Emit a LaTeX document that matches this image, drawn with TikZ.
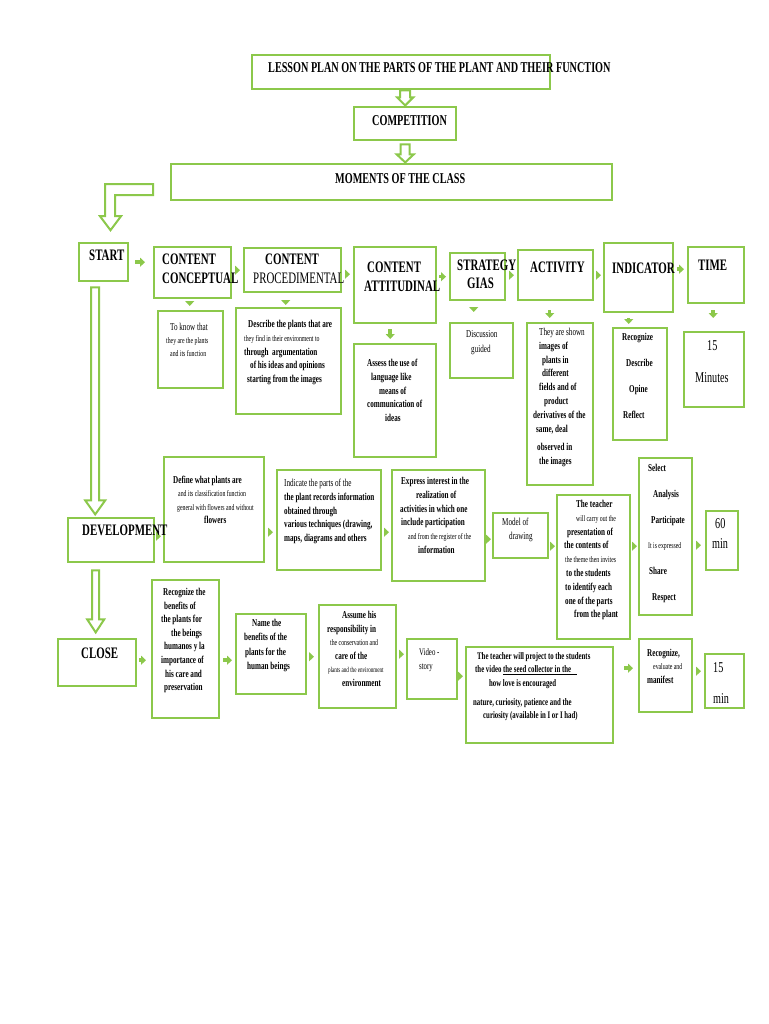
\documentclass[tikz,border=0pt]{standalone}
\usepackage{fontspec}
\setmainfont{Liberation Serif}[FakeStretch=0.68]
\usetikzlibrary{arrows.meta}
\definecolor{leaf}{RGB}{140,200,75}
\newcommand\bodyb{\fontsize{10.5}{\baselineskip}\selectfont\bfseries}
\newcommand\bodyr{\fontsize{10.5}{\baselineskip}\selectfont\mdseries}
\newcommand\bodys{\fontsize{8.5}{\baselineskip}\selectfont\mdseries}
\newcommand\headf{\fontsize{16}{19}\selectfont\bfseries}
\begin{document}
\begin{tikzpicture}[x=1pt, y=-1pt,
    box/.style={draw=leaf, line width=2.4pt, inner sep=0pt, anchor=north west},
    lbl/.style={inner sep=0pt, anchor=north west, align=left,
      font=\fontsize{10.5}{13.8}\selectfont},
    head/.style={lbl, font=\headf},
    nums/.style={lbl, font=\fontsize{15}{32}\selectfont},
    sarrow/.style={draw=leaf, line width=3.5pt, shorten <=3pt, shorten >=3pt,
      -{Triangle[length=5pt,width=9pt]}},
    harrow/.style={draw=leaf, line width=2pt, fill=white, line join=miter}
  ]
  \useasboundingbox (0,0) rectangle (768,1024);
  \fill[white] (0,0) rectangle (768,1024);
  % heading chain
  \node[box, minimum width=298, minimum height=34] (title) at (251,54) {};
  \node[head, font=\fontsize{15}{18}\selectfont\bfseries] (title-t) at (268,62)
  {LESSON PLAN ON THE PARTS OF THE PLANT AND THEIR FUNCTION};
  \node[box, minimum width=102, minimum height=33] (comp) at (353,106) {};
  \node[head, font=\fontsize{15}{18}\selectfont\bfseries] (comp-t) at (372,115)
  {COMPETITION};
  \node[box, minimum width=441, minimum height=36] (moments) at (170,163) {};
  \node[head, font=\fontsize{15}{18}\selectfont\bfseries] (moments-t) at (335,173)
  {MOMENTS OF THE CLASS};
  \draw[harrow] ([xshift=-5pt]comp.north |- title.south) -- ++(0,7) -- ++(-3,0)
  -- ++(8,8) -- ++(8,-8) -- ++(-3,0) -- ++(0,-7) -- cycle;
  \draw[harrow] ([shift={(-4.5pt,-3pt)}]comp.south) -- ++(0,10) -- ++(-4,0)
  -- ++(8.5,8) -- ++(8.5,-8) -- ++(-4,0) -- ++(0,-10) -- cycle;

  % first moment: start
  \node[box, minimum width=49, minimum height=38] (start) at (78,242) {};
  \node[head] (start-t) at (89,250) {START};
  \node[box, minimum width=77, minimum height=51] (cc) at (153,246) {};
  \node[head] (cc-t) at (162,254) {CONTENT\\CONCEPTUAL};
  \node[box, minimum width=97, minimum height=44] (cp) at (243,247) {};
  \node[head] (cp-t) at (253,254)
  {\hspace*{12pt}CONTENT\\{\mdseries PROCEDIMENTAL}};
  \node[box, minimum width=82, minimum height=76] (ca) at (353,246) {};
  \node[head] (ca-t) at (364,262) {\hspace*{3pt}CONTENT\\ATTITUDINAL};
  \node[box, minimum width=55, minimum height=47] (strat) at (449,252) {};
  \node[head, font=\fontsize{16}{18}\selectfont\bfseries] (strat-t) at (457,260)
  {STRATEGY\\\hspace*{10pt}GIAS};
  \node[box, minimum width=75, minimum height=50] (act) at (517,249) {};
  \node[head] (act-t) at (530,262) {ACTIVITY};
  \node[box, minimum width=69, minimum height=69] (ind) at (603,242) {};
  \node[head] (ind-t) at (612,263) {INDICATOR};
  \node[box, minimum width=56, minimum height=56] (time) at (687,246) {};
  \node[head] (time-t) at (698,260) {TIME};

  \node[box, minimum width=65, minimum height=77] (know) at (157,310) {};
  \node[lbl, font=\fontsize{10.5}{13}\selectfont] (know-t) at (166,323)
  {\hspace*{4pt}{\bodyr To know that}\\
   {\bodys they are the plants}\\
   \hspace*{4pt}{\bodys and its function}};
  \node[box, minimum width=105, minimum height=106] (desc) at (235,307) {};
  \node[lbl] (desc-t) at (244,320)
  {\hspace*{4pt}{\bodyb Describe the plants that are}\\
   {\bodys they find in their environment to}\\
   {\bodyb through\ \ argumentation}\\
   \hspace*{6pt}{\bodyb of his ideas and opinions}\\
   \hspace*{3pt}{\bodyb starting from the images}};
  \node[box, minimum width=82, minimum height=113] (assess) at (353,343) {};
  \node[lbl] (assess-t) at (367,359)
  {{\bodyb Assess the use of}\\
   \hspace*{4pt}{\bodyb language like}\\
   \hspace*{12pt}{\bodyb means of}\\
   {\bodyb communication of}\\
   \hspace*{18pt}{\bodyb ideas}};
  \node[box, minimum width=63, minimum height=55] (disc) at (449,322) {};
  \node[lbl, font=\fontsize{10.5}{15}\selectfont] (disc-t) at (466,330)
  {{\bodyr Discussion}\\\hspace*{5pt}{\bodyr guided}};
  \node[box, minimum width=66, minimum height=162] (shown) at (526,322) {};
  \node[lbl] (shown-t) at (533,328)
  {\hspace*{6pt}{\bodyr They are shown}\\
   \hspace*{6pt}{\bodyb images of}\\
   \hspace*{9pt}{\bodyb plants in}\\
   \hspace*{9pt}{\bodyb different}\\
   \hspace*{6pt}{\bodyb fields and of}\\
   \hspace*{11pt}{\bodyb product}\\
   {\bodyb derivatives of the}\\
   \hspace*{3pt}{\bodyb same, deal}\\[5pt]
   \hspace*{4pt}{\bodyb observed in}\\
   \hspace*{6pt}{\bodyb the images}};
  \node[box, minimum width=54, minimum height=112] (recog) at (612,327) {};
  \node[lbl, font=\fontsize{10.5}{26}\selectfont] (recog-t) at (622,333)
  {{\bodyb Recognize}\\
   \hspace*{4pt}{\bodyb Describe}\\
   \hspace*{7pt}{\bodyb Opine}\\
   \hspace*{1pt}{\bodyb Reflect}};
  \node[box, minimum width=60, minimum height=75] (mins) at (683,331) {};
  \node[nums] (mins-t) at (695,340) {\hspace*{12pt}15\\Minutes};

  % second moment: development
  \node[box, minimum width=86, minimum height=44] (dev) at (67,517) {};
  \node[box, minimum width=100, minimum height=105] (define) at (163,456) {};
  \node[lbl, font=\fontsize{10.5}{13.3}\selectfont] (define-t) at (173,476)
  {{\bodyb Define what plants are}\\
   \hspace*{5pt}{\bodys and its classification function}\\
   \hspace*{4pt}{\bodys general with flowers and without}\\
   \hspace*{31pt}{\bodyb flowers}};
  \node[box, minimum width=104, minimum height=100] (indic) at (276,469) {};
  \node[lbl] (indic-t) at (284,479)
  {{\bodyr Indicate the parts of the}\\
   {\bodyb the plant records information}\\
   {\bodyb obtained through}\\
   {\bodyb various techniques (drawing,}\\
   {\bodyb maps, diagrams and others}};
  \node[box, minimum width=93, minimum height=111] (express) at (391,469) {};
  \node[lbl] (express-t) at (400,477)
  {\hspace*{1pt}{\bodyb Express interest in the}\\
   \hspace*{16pt}{\bodyb realization of}\\
   {\bodyb activities in which one}\\
   \hspace*{1pt}{\bodyb include participation}\\
   \hspace*{8pt}{\bodys and from the register of the}\\
   \hspace*{18pt}{\bodyb information}};
  \node[box, minimum width=55, minimum height=45] (model) at (492,512) {};
  \node[lbl, font=\fontsize{10.5}{13.5}\selectfont] (model-t) at (502,518)
  {{\bodyr Model of}\\\hspace*{7pt}{\bodyr drawing}};
  \node[box, minimum width=73, minimum height=144] (teacher) at (556,494) {};
  \node[lbl] (teacher-t) at (564,500)
  {\hspace*{12pt}{\bodyb The teacher}\\
   \hspace*{12pt}{\bodys will carry out the}\\
   \hspace*{3pt}{\bodyb presentation of}\\
   {\bodyb the contents of}\\
   \hspace*{1pt}{\bodys the theme then invites}\\
   \hspace*{2pt}{\bodyb to the students}\\
   \hspace*{1pt}{\bodyb to identify each}\\
   \hspace*{1pt}{\bodyb one of the parts}\\
   \hspace*{10pt}{\bodyb from the plant}};
  \node[box, minimum width=53, minimum height=157] (select) at (638,457) {};
  \node[lbl, font=\fontsize{10.5}{25.8}\selectfont] (select-t) at (648,464)
  {{\bodyb Select}\\
   \hspace*{5pt}{\bodyb Analysis}\\
   \hspace*{3pt}{\bodyb Participate}\\
   {\bodys It is expressed}\\
   \hspace*{1pt}{\bodyb Share}\\
   \hspace*{4pt}{\bodyb Respect}};
  \node[box, minimum width=32, minimum height=59] (sixty) at (705,510) {};
  \node[nums, font=\fontsize{15}{20}\selectfont] (sixty-t) at (712,518)
  {\hspace*{3pt}60\\min};

  % third moment: close
  \node[box, minimum width=78, minimum height=47] (close) at (57,638) {};
  \node[head] (close-t) at (81,648) {CLOSE};
  \node[box, minimum width=67, minimum height=138] (benef) at (151,579) {};
  \node[lbl, font=\fontsize{10.5}{13.6}\selectfont] (benef-t) at (161,588)
  {\hspace*{2pt}{\bodyb Recognize the}\\
   \hspace*{3pt}{\bodyb benefits of}\\
   {\bodyb the plants for}\\
   \hspace*{10pt}{\bodyb the beings}\\
   \hspace*{3pt}{\bodyb humanos y la}\\
   {\bodyb importance of}\\
   \hspace*{4pt}{\bodyb his care and}\\
   \hspace*{3pt}{\bodyb preservation}};
  \node[box, minimum width=70, minimum height=80] (name) at (235,613) {};
  \node[lbl, font=\fontsize{10.5}{14.3}\selectfont] (name-t) at (244,619)
  {\hspace*{8pt}{\bodyb Name the}\\
   {\bodyb benefits of the}\\
   \hspace*{1pt}{\bodyb plants for the}\\
   \hspace*{3pt}{\bodyb human beings}};
  \node[box, minimum width=77, minimum height=103] (assume) at (318,604) {};
  \node[lbl, font=\fontsize{10.5}{13.6}\selectfont] (assume-t) at (327,611)
  {\hspace*{15pt}{\bodyb Assume his}\\
   {\bodyb responsibility in}\\
   \hspace*{3pt}{\bodys the conservation and}\\
   \hspace*{8pt}{\bodyb care of the}\\
   \hspace*{1pt}{\fontsize{7.5}{\baselineskip}\selectfont plants and the environment}\\
   \hspace*{15pt}{\bodyb environment}};
  \node[box, minimum width=50, minimum height=60] (video) at (406,638) {};
  \node[lbl, font=\fontsize{10}{14}\selectfont] (video-t) at (419,648)
  {Video -\\story};
  \node[box, minimum width=147, minimum height=96] (project) at (465,646) {};
  \node[lbl, font=\fontsize{10}{13.5}\selectfont\bfseries] (project-t) at (473,652)
  {\hspace*{4pt}The teacher will project to the students\\
   \hspace*{2pt}the video \underline{the seed collector in the\hspace*{6pt}}\\
   \hspace*{16pt}how love is encouraged\\[5.5pt]
   nature, curiosity, patience and the\\
   \hspace*{10pt}curiosity (available in I or I had)};
  \node[box, minimum width=53, minimum height=73] (evalu) at (638,638) {};
  \node[lbl, font=\fontsize{10.5}{13.5}\selectfont] (evalu-t) at (647,649)
  {{\bodyb Recognize,}\\
   \hspace*{6pt}{\bodys evaluate and}\\
   {\bodyb manifest}};
  \node[box, minimum width=39, minimum height=54] (fifteen) at (704,653) {};
  \node[nums, font=\fontsize{15}{31}\selectfont] (fifteen-t) at (713,662)
  {15\\min};

  % hollow arrows between the moments
  \draw[harrow] ([shift={(-17pt,-2pt)}]moments.west) -- ++(-48,0) -- ++(0,32)
  -- ++(-5,0) -- ++(10.5,14) -- ++(10.5,-14) -- ++(-6,0) -- ++(0,-21)
  -- ++(38,0) -- cycle;
  \draw[harrow] ([shift={(-12.5pt,-5pt)}]start.south) -- ++(0,213) -- ++(-6,0)
  -- ++(10,14) -- ++(10,-14) -- ++(-6,0) -- ++(0,-213) -- cycle;
  \draw[harrow] ([shift={(-19pt,-7pt)}]dev.south) -- ++(0,49) -- ++(-5,0)
  -- ++(8.5,13) -- ++(8.5,-13) -- ++(-5,0) -- ++(0,-49) -- cycle;

  % small arrows, first row
  \draw[sarrow, shorten <=6pt, shorten >=8pt] (start.east) -- (start.east -| cc.west);
  \draw[sarrow] (cp.west -| cc.east) -- (cp.west);
  \draw[sarrow, shorten <=4pt] ([yshift=-4pt]cp.east) -- ([yshift=-4pt]cp.east -| ca.west);
  \draw[sarrow, shorten <=2pt] (strat.west -| ca.east) -- (strat.west);
  \draw[sarrow] (act.west -| strat.east) -- (act.west);
  \draw[sarrow, shorten <=2pt, shorten >=2pt] (act.east) -- (act.east -| ind.west);
  \draw[sarrow] ([yshift=6pt]time.west -| ind.east) -- ([yshift=6pt]time.west);
  \draw[sarrow, shorten >=4pt] ([xshift=-3pt]cc.south) -- ([xshift=-3pt]cc.south |- know.north);
  \draw[sarrow, shorten <=7pt, shorten >=2pt] ([xshift=-7pt]cp.south) -- ([xshift=-7pt]cp.south |- desc.north);
  \draw[sarrow, shorten <=5pt, shorten >=4pt] ([xshift=-5pt]ca.south) -- ([xshift=-5pt]ca.south |- assess.north);
  \draw[sarrow, shorten <=6pt, shorten >=10pt] ([xshift=-4pt]strat.south) -- ([xshift=-4pt]strat.south |- disc.north);
  \draw[sarrow, shorten <=9pt, shorten >=4pt] ([xshift=-6pt]act.south) -- ([xshift=-6pt]act.south |- shown.north);
  \draw[sarrow, shorten <=5pt, shorten >=3pt] ([xshift=-10pt]ind.south) -- ([xshift=-10pt]ind.south |- recog.north);
  \draw[sarrow, shorten <=6pt, shorten >=13pt] ([xshift=-3pt]time.south) -- ([xshift=-3pt]time.south |- mins.north);

  % small arrows, second row
  \draw[sarrow, shorten <=2pt, shorten >=2pt] ([yshift=4pt]dev.east) -- ([yshift=4pt]dev.east -| define.west);
  \node[head] (dev-t) at (82,525) {DEVELOPMENT};
  \draw[sarrow] ([yshift=-12pt]indic.west -| define.east) -- ([yshift=-12pt]indic.west);
  \draw[sarrow, shorten >=2pt] ([yshift=-6.5pt]express.west -| indic.east) -- ([yshift=-6.5pt]express.west);
  \draw[sarrow, shorten <=2pt, shorten >=1pt] ([yshift=-3.5pt]model.west -| express.east) -- ([yshift=-3.5pt]model.west);
  \draw[sarrow, shorten <=2pt, shorten >=1pt] ([yshift=-10.5pt]model.east) -- ([yshift=-10.5pt]model.east -| teacher.west);
  \draw[sarrow, shorten <=1pt, shorten >=1pt] ([yshift=-9.5pt]select.west -| teacher.east) -- ([yshift=-9.5pt]select.west);
  \draw[sarrow, shorten >=4pt] ([yshift=-4.5pt]sixty.west -| select.east) -- ([yshift=-4.5pt]sixty.west);

  % small arrows, third row
  \draw[sarrow, shorten <=2pt, shorten >=5pt] ([yshift=2.5pt]close.east) -- ([yshift=2.5pt]close.east -| benef.west);
  \draw[sarrow] ([yshift=-6pt]name.west -| benef.east) -- ([yshift=-6pt]name.west);
  \draw[sarrow, shorten <=2pt, shorten >=4pt] (assume.west -| name.east) -- (assume.west);
  \draw[sarrow, shorten <=2pt, shorten >=2pt] ([yshift=2.5pt]assume.east) -- ([yshift=2.5pt]assume.east -| video.west);
  \draw[sarrow, shorten <=2pt, shorten >=2pt] ([yshift=-7pt]video.east) -- ([yshift=-7pt]video.east -| project.west);
  \draw[sarrow, shorten <=10pt, shorten >=5pt] ([yshift=7.5pt]evalu.west -| project.east) -- ([yshift=7.5pt]evalu.west);
  \draw[sarrow] ([yshift=4.5pt]evalu.east) -- ([yshift=4.5pt]evalu.east -| fifteen.west);
\end{tikzpicture}
\end{document}
